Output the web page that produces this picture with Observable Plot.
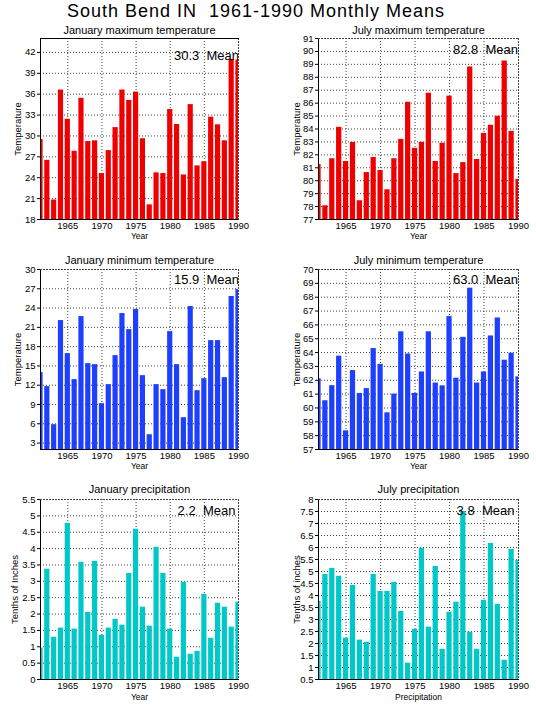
<!DOCTYPE html>
<html><head><meta charset="utf-8">
<script src="https://cdn.jsdelivr.net/npm/d3@7"></script>
<script src="https://cdn.jsdelivr.net/npm/@observablehq/plot@0.6"></script>
<style>
body{margin:0;background:#fff;}
#wrap{position:relative;width:536px;height:711px;font-family:"Liberation Sans",sans-serif;overflow:hidden;}
#title{position:absolute;left:0;top:1px;width:512px;text-align:center;font-size:18px;line-height:20px;white-space:pre;color:#000;letter-spacing:1px;}
</style></head><body>
<div id="wrap"><div id="title">South Bend IN  1961-1990 Monthly Means</div></div>
<script>
const years = [1961,1962,1963,1964,1965,1966,1967,1968,1969,1970,1971,1972,1973,1974,1975,1976,1977,1978,1979,1980,1981,1982,1983,1984,1985,1986,1987,1988,1989,1990];
const xTicks = [1965,1970,1975,1980,1985,1990];

const janMax = [29.5,26.5,20.8,36.6,32.4,27.8,35.4,29.2,29.3,24.6,27.9,31.2,36.6,35.1,36.3,29.6,20.1,24.7,24.6,33.8,31.65,24.4,34.5,25.7,26.3,32.7,31.6,29.3,41.0,40.9];
const julMax = [81.25,78.06,81.7,84.13,81.49,82.96,78.45,80.63,81.8,80.79,79.3,81.7,83.2,86.07,82.5,82.96,86.77,81.49,82.9,86.54,80.55,81.4,88.8,81.64,83.66,84.29,84.99,89.26,83.82,80.09];
const janMin = [13.96,11.78,5.86,22.06,16.92,12.87,22.68,15.36,15.2,9.13,12.09,16.6,23.15,20.65,23.77,13.49,4.3,12.09,11.31,20.34,15.2,6.95,24.24,11.15,13.02,18.94,18.94,13.18,25.8,26.88];
const julMin = [62.11,60.52,61.61,63.74,58.35,62.7,61.05,61.4,64.29,63.15,59.65,61.0,65.5,63.9,61.05,62.6,65.5,61.8,61.6,66.6,62.15,65.1,68.65,61.8,62.6,65.2,66.5,63.45,63.95,62.25];
const janPrcp = [0.96,3.37,1.29,1.57,4.77,1.54,3.58,2.05,3.61,1.35,1.57,1.84,1.66,3.24,4.59,2.21,1.63,4.04,3.24,1.54,0.68,2.97,0.77,0.86,2.60,1.26,2.33,2.21,1.60,2.36];
const julPrcp = [3.76,4.88,5.13,4.80,2.22,4.42,2.14,2.05,4.88,4.17,4.17,4.55,3.34,1.18,2.59,5.96,2.68,5.21,1.76,3.30,3.72,7.50,2.47,1.76,3.80,6.17,3.63,1.30,5.92,5.46];

const titles = ["January maximum temperature","July maximum temperature","January minimum temperature","July minimum temperature","January precipitation","July precipitation"];
const means = ["30.3","82.8","15.9","63.0","2.2","3.8"];
const yLabels = ["Temperature","Temperature","Temperature","Temperature","Tenths of Inches","Tenths of inches"];
const xLabels = ["Year","Year","Year","Year","Year","Precipitation"];
const domains = [[18,44],[77,91],[2,30],[57,70],[0,5.5],[0.5,8]];
const yTicks = [
  [18,21,24,27,30,33,36,39,42],
  [77,78,79,80,81,82,83,84,85,86,87,88,89,90,91],
  [3,6,9,12,15,18,21,24,27,30],
  [57,58,59,60,61,62,63,64,65,66,67,68,69,70],
  [0,0.5,1,1.5,2,2.5,3,3.5,4,4.5,5,5.5],
  [0.5,1,1.5,2,2.5,3,3.5,4,4.5,5,5.5,6,6.5,7,7.5,8]
];
const series = [janMax, julMax, janMin, julMin, janPrcp, julPrcp];
const colors = ["#EE0000","#EE0000","#1F3FFF","#1F3FFF","#00C8C8","#00C8C8"];

// layout of each panel (pixels)
const layout = [
  {left:0,   top:0,   h:240, ml:40, mr:30, mt:38, mb:21, meanDy:17, titleDy:-8,  yDx:-23, xDy:17, solidTop:true},
  {left:268, top:0,   h:240, ml:50, mr:18, mt:38, mb:21, meanDy:11, titleDy:-8,  yDx:-22, xDy:17},
  {left:0,   top:240, h:230, ml:40, mr:30, mt:29, mb:21, meanDy:10, titleDy:-9,  yDx:-23, xDy:17},
  {left:268, top:240, h:230, ml:50, mr:18, mt:29, mb:21, meanDy:10, titleDy:-9,  yDx:-22, xDy:17},
  {left:0,   top:470, h:241, ml:40, mr:30, mt:29, mb:32, meanDy:11, titleDy:-10, yDx:-26, xDy:18},
  {left:268, top:470, h:241, ml:50, mr:18, mt:29, mb:32, meanDy:11, titleDy:-10, yDx:-22, xDy:18}
];

const wrap = document.getElementById("wrap");
const dot = {stroke:"#444", strokeOpacity:1, strokeWidth:1, strokeDasharray:"1,2"};

series.forEach((vals, i) => {
  const L = layout[i];
  const [y0, y1] = domains[i];
  const data = years.map((yr, j) => ({year: yr, v: vals[j]}));
  const svg = Plot.plot({
    width: 268, height: L.h,
    marginLeft: L.ml, marginRight: L.mr, marginTop: L.mt, marginBottom: L.mb,
    style: {position:"absolute", left: L.left + "px", top: L.top + "px", fontFamily:"'Liberation Sans',sans-serif", fontSize:"9px", color:"#000", background:"transparent", overflow:"visible"},
    x: {domain: [1961, 1990]},
    y: {domain: domains[i]},
    marks: [
      Plot.gridX(xTicks.slice(0, -1), dot),
      Plot.gridY(yTicks[i], dot),
      Plot.rectY(data, {x1: d => d.year - 0.38, x2: d => d.year + 0.38, y1: () => y0, y2: "v", fill: colors[i], clip: true}),
      Plot.axisX(xTicks, {tickSize: 0, tickPadding: 3, tickFormat: d => String(d), fontSize: 9.5, label: null}),
      Plot.axisY(yTicks[i], {tickSize: 3, tickPadding: 2, tickFormat: d => String(d), fontSize: 9.5, label: null}),
      Plot.frame({anchor: "left", stroke: "#000"}),
      Plot.frame({anchor: "bottom", stroke: "#000"}),
      Plot.frame({anchor: "right", ...dot}),
      L.solidTop ? Plot.frame({anchor: "top", stroke: "#000"}) : Plot.frame({anchor: "top", ...dot}),
      Plot.text([means[i] + "\u00a0\u00a0Mean"], {text: d => d, frameAnchor: "top", lineAnchor: "middle", textAnchor: "middle", dx: 67, dy: L.meanDy, fontSize: 13, fill: "#000", clip: true}),
      Plot.text([titles[i]], {text: d => d, frameAnchor: "top", lineAnchor: "middle", textAnchor: "middle", dy: L.titleDy, fontSize: 11, fill: "#000"}),
      Plot.text([yLabels[i]], {text: d => d, frameAnchor: "left", lineAnchor: "middle", textAnchor: "middle", dx: L.yDx, rotate: -90, fontSize: 9.5, fill: "#000"}),
      Plot.text([xLabels[i]], {text: d => d, frameAnchor: "bottom", lineAnchor: "middle", textAnchor: "middle", dy: L.xDy, fontSize: 8.5, fill: "#000"})
    ]
  });
  wrap.appendChild(svg);
});
</script>
</body></html>
